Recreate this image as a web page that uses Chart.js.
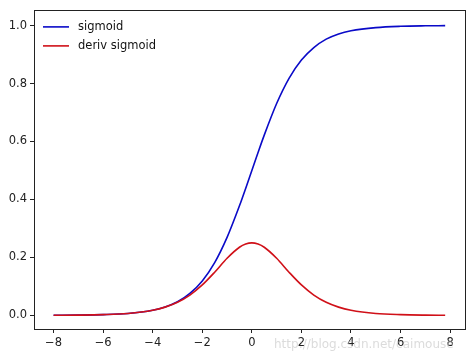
<!DOCTYPE html>
<html>
<head>
<meta charset="utf-8">
<script src="https://cdn.jsdelivr.net/npm/chart.js@4/dist/chart.umd.min.js"></script>
<style>
  html, body { margin: 0; padding: 0; background: #fff; }
  #wrap { width: 474px; height: 351px; }
</style>
</head>
<body>
<div id="wrap"><canvas id="c" width="474" height="351"></canvas></div>
<script>
// values
const xs = [-8, -7, -6, -5, -4, -3.5, -3, -2.5, -2, -1.5, -1, -0.5, -0.25, 0, 0.25, 0.5, 1, 1.5, 2, 2.5, 3, 3.5, 4, 5, 6, 7, 7.8];
const sigmoid = [0.0003, 0.0009, 0.0025, 0.0067, 0.018, 0.029, 0.047, 0.076, 0.119, 0.182, 0.269, 0.378, 0.438, 0.5, 0.562, 0.622, 0.731, 0.818, 0.881, 0.924, 0.953, 0.971, 0.982, 0.993, 0.9975, 0.9991, 0.9996];
const derivSigmoid = [0.0003, 0.0009, 0.0025, 0.0066, 0.0177, 0.0285, 0.0452, 0.0701, 0.105, 0.149, 0.197, 0.235, 0.246, 0.25, 0.246, 0.235, 0.197, 0.149, 0.105, 0.0701, 0.0452, 0.0285, 0.0177, 0.0066, 0.0025, 0.0009, 0.0004];
const xTicks = [-8, -6, -4, -2, 0, 2, 4, 6, 8];
const yTicks = [0.0, 0.2, 0.4, 0.6, 0.8, 1.0];
const seriesNames = ['sigmoid', 'deriv sigmoid'];

const FONT = 'DejaVu Sans';
const BLUE = '#0a0ac8';
const RED = '#d01018';

const toPoints = ys => xs.map((x, i) => ({ x: x, y: ys[i] }));

const framePlugin = {
  id: 'frame',
  afterDraw: chart => {
    const ctx = chart.ctx;
    const a = chart.chartArea;
    ctx.save();
    ctx.strokeStyle = '#222';
    ctx.lineWidth = 1;
    ctx.strokeRect(Math.round(a.left) + 0.5, Math.round(a.top) + 0.5,
      Math.round(a.right - a.left), Math.round(a.bottom - a.top));

    // legend in the upper left corner, no frame
    ctx.font = '11.5px "' + FONT + '"';
    ctx.textBaseline = 'middle';
    chart.data.datasets.forEach((ds, i) => {
      const yy = a.top + 17 + i * 19;
      ctx.strokeStyle = ds.borderColor;
      ctx.lineWidth = 1.6;
      ctx.beginPath();
      ctx.moveTo(a.left + 9, yy);
      ctx.lineTo(a.left + 35, yy);
      ctx.stroke();
      ctx.fillStyle = '#111';
      ctx.fillText(ds.label, a.left + 44, yy);
    });

    // faint watermark
    ctx.font = '12px "' + FONT + '"';
    ctx.fillStyle = 'rgba(190,190,190,0.55)';
    ctx.textBaseline = 'alphabetic';
    ctx.fillText('http://blog.csdn.net/caimouse', 274, 348);
    ctx.restore();
  }
};

new Chart(document.getElementById('c'), {
  type: 'line',
  plugins: [framePlugin],
  data: {
    datasets: [{
      label: seriesNames[0],
      data: toPoints(sigmoid),
      borderColor: BLUE,
      borderWidth: 1.6,
      order: 2
    }, {
      label: seriesNames[1],
      data: toPoints(derivSigmoid),
      borderColor: RED,
      borderWidth: 1.6,
      order: 1
    }]
  },
  options: {
    responsive: false,
    animation: false,
    events: [],
    elements: {
      point: { radius: 0 },
      line: { cubicInterpolationMode: 'monotone', fill: false }
    },
    layout: { padding: { left: 0, top: 5, right: 9, bottom: 0 } },
    plugins: {
      legend: { display: false },
      tooltip: { enabled: false }
    },
    scales: {
      x: {
        type: 'linear',
        min: -8.79,
        max: 8.6,
        afterBuildTicks: scale => { scale.ticks = xTicks.map(v => ({ value: v })); },
        afterFit: scale => { scale.height = 22; },
        border: { display: false },
        grid: { drawOnChartArea: false, tickLength: 4, color: '#222', lineWidth: 1 },
        ticks: {
          color: '#222',
          padding: 3,
          maxRotation: 0,
          font: { family: FONT, size: 11.5 },
          callback: v => String(v).replace('-', '\u2212')
        }
      },
      y: {
        type: 'linear',
        min: -0.047,
        max: 1.054,
        afterBuildTicks: scale => { scale.ticks = yTicks.map(v => ({ value: v })); },
        afterFit: scale => { scale.width = 34; },
        border: { display: false },
        grid: { drawOnChartArea: false, tickLength: 4, color: '#222', lineWidth: 1 },
        ticks: {
          color: '#222',
          padding: 3,
          font: { family: FONT, size: 11.5 },
          callback: v => v.toFixed(1)
        }
      }
    }
  }
});
</script>
</body>
</html>
